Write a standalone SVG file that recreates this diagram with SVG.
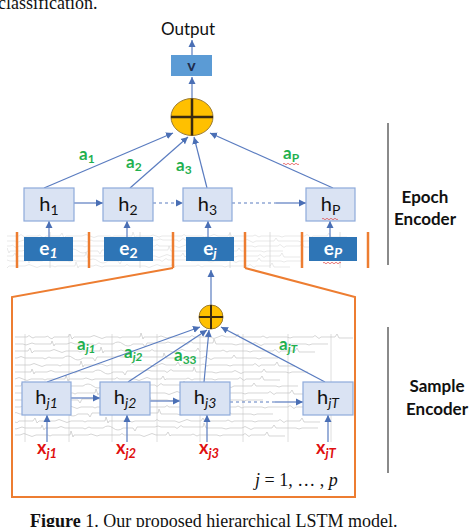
<svg xmlns="http://www.w3.org/2000/svg" width="474" height="527" viewBox="0 0 474 527">
<defs>
<style>
.sans{font-family:Lato,"Open Sans","Liberation Sans",sans-serif}
.serif{font-family:"Liberation Serif","Times New Roman",serif}
.hb{fill:#dae3f3;stroke:#8eaadb;stroke-width:1.2}
.eb{fill:#2e75b6}
.ht{font-size:20px;fill:#111;text-anchor:middle}
.sub{font-size:14px}
.et{font-size:19px;fill:#fff;font-weight:bold;text-anchor:middle}
.al{font-size:17px;fill:#1fb04f;font-weight:bold}
.xl{font-size:18px;fill:#e01010;font-weight:bold}
.c{stroke:#5a7cc0;stroke-width:1.2;fill:none;marker-end:url(#ah)}
.cn{stroke:#5a7cc0;stroke-width:1.2;fill:none}
.d{stroke-dasharray:3,3}
.eeg{fill:none;stroke:#c4c4c4;stroke-width:0.7}
.eegl{fill:none;stroke:#dadada;stroke-width:0.6}
.grid{stroke:#d6d6d6;stroke-width:0.8}
.or{stroke:#ed7d31;fill:none}
.sq{fill:none;stroke:#e04040;stroke-width:0.7}
</style>
<marker id="ah" markerUnits="userSpaceOnUse" markerWidth="8" markerHeight="8" refX="7" refY="4" orient="auto">
<path d="M0,0.5 L7,4 L0,7.5 z" fill="#4a6fb5"/>
</marker>
<path id="w1" d="M0,0 h12 q2,-3 4,0 q2,2 4,0 h10 q3,-2 5,1 q2,2 4,-1 h14 l2,-3 l2,5 l2,-2 h16 q4,-3 8,0 t8,0 h12 q2,2 4,0 h18 l1,-4 l2,6 l1,-2 h14 q3,-2 6,0 q3,2 6,0 h20 q2,-3 4,0 h16 q4,3 8,0 t8,0 h10 l2,-3 l2,4 l1,-1 h20 q2,-2 4,0 t4,0 h18 q3,2 6,0 h20 q2,-3 4,0 t4,0 h14 l2,-3 l2,4 h16"/>
<path id="w2" d="M0,0 h8 q3,2 6,0 t6,0 h16 l1,-3 l2,5 l1,-2 h12 q4,-3 8,0 h18 q2,2 4,0 q2,-2 4,0 h12 q5,-4 10,0 t10,0 h10 l2,3 l2,-4 h18 q3,-2 6,0 h14 q2,3 4,0 t4,0 h20 l1,-4 l2,5 h16 q4,2 8,0 h12 q3,-3 6,0 q3,3 6,0 h18 l2,-3 l2,3 h20 q3,2 6,0 h16"/>
<clipPath id="cl1"><rect x="15" y="333" width="338" height="110"/></clipPath>
<clipPath id="cl2"><rect x="7" y="231" width="362" height="38"/></clipPath>
</defs>
<rect width="474" height="527" fill="#fff"/>

<!-- page text fragments -->
<text class="serif" x="-2" y="9" font-size="18" fill="#111">classification.</text>
<text class="serif" x="30" y="527" font-size="18" fill="#111"><tspan font-weight="bold">Figure</tspan> 1. Our proposed hierarchical LSTM model.</text>

<!-- EEG background, epoch strip -->
<g id="eeg-strip" clip-path="url(#cl2)">
<use href="#w1" x="7" y="236" class="eegl"/>
<use href="#w2" x="7" y="241" class="eegl"/>
<use href="#w1" x="-20" y="246" class="eegl"/>
<use href="#w2" x="-30" y="251" class="eegl"/>
<use href="#w1" x="-40" y="256" class="eegl"/>
<use href="#w2" x="-10" y="261" class="eegl"/>
<use href="#w1" x="-50" y="266" class="eegl"/>
<line x1="50" y1="232" x2="50" y2="268" class="grid"/>
<line x1="140" y1="232" x2="140" y2="268" class="grid"/>
<line x1="230" y1="232" x2="230" y2="268" class="grid"/>
<line x1="270" y1="232" x2="270" y2="268" class="grid"/>
<line x1="340" y1="232" x2="340" y2="268" class="grid"/>
</g>

<!-- EEG background, sample box -->
<g id="eeg-sample" clip-path="url(#cl1)">
<line x1="25" y1="334" x2="25" y2="442" class="grid"/>
<line x1="69" y1="334" x2="69" y2="442" class="grid"/>
<line x1="112" y1="334" x2="112" y2="442" class="grid"/>
<line x1="157" y1="334" x2="157" y2="442" class="grid"/>
<line x1="200" y1="334" x2="200" y2="442" class="grid"/>
<line x1="243" y1="334" x2="243" y2="442" class="grid"/>
<line x1="288" y1="334" x2="288" y2="442" class="grid"/>
<line x1="331" y1="334" x2="331" y2="442" class="grid"/>
<use href="#w1" x="15" y="337" class="eeg"/>
<use href="#w2" x="15" y="344" class="eeg"/>
<use href="#w1" x="-25" y="351" class="eeg"/>
<use href="#w2" x="-35" y="358" class="eeg"/>
<use href="#w1" x="-45" y="365" class="eeg"/>
<use href="#w2" x="-5" y="372" class="eeg"/>
<use href="#w1" x="-60" y="379" class="eeg"/>
<use href="#w2" x="-15" y="386" class="eeg"/>
<use href="#w1" x="-30" y="393" class="eeg"/>
<use href="#w2" x="-50" y="400" class="eeg"/>
<use href="#w1" x="-10" y="407" class="eeg"/>
<use href="#w2" x="-40" y="414" class="eeg"/>
<use href="#w1" x="-20" y="421" class="eeg"/>
<use href="#w2" x="5" y="428" class="eeg"/>
<use href="#w1" x="-55" y="435" class="eeg"/>
</g>

<!-- orange framing -->
<g id="frame">
<line x1="17" y1="232" x2="17" y2="268" class="or" stroke-width="2.5"/>
<line x1="89" y1="232" x2="89" y2="268" class="or" stroke-width="2.5"/>
<line x1="173" y1="232" x2="173" y2="268" class="or" stroke-width="2.5"/>
<line x1="245" y1="232" x2="245" y2="268" class="or" stroke-width="2.5"/>
<line x1="302" y1="232" x2="302" y2="268" class="or" stroke-width="2.5"/>
<line x1="368" y1="232" x2="368" y2="268" class="or" stroke-width="2.5"/>
<path d="M173,268 L12,297 L12,497 L355,497 L355,297 L245,268" class="or" stroke-width="2"/>
<line x1="388" y1="123" x2="388" y2="265" stroke="#8a8a8a" stroke-width="2"/>
<line x1="388" y1="327" x2="388" y2="473" stroke="#8a8a8a" stroke-width="2"/>
</g>

<!-- connectors -->
<g id="connectors">
<line x1="192" y1="55" x2="192" y2="40" class="c"/>
<line x1="192" y1="99" x2="192" y2="77" class="c"/>
<line x1="44" y1="188" x2="173" y2="133" class="c"/>
<line x1="130" y1="188" x2="188" y2="137" class="c"/>
<line x1="207" y1="188" x2="194" y2="137" class="c"/>
<line x1="333" y1="188" x2="210" y2="133" class="c"/>
<line x1="74" y1="203" x2="103" y2="203" class="c"/>
<line x1="153" y1="203" x2="183" y2="203" class="c d"/>
<line x1="232" y1="203" x2="276" y2="203" class="cn d"/>
<line x1="276" y1="203" x2="306" y2="203" class="c"/>
<line x1="49" y1="237" x2="49" y2="221" class="c"/>
<line x1="127" y1="237" x2="127" y2="221" class="c"/>
<line x1="208" y1="237" x2="208" y2="221" class="c"/>
<line x1="330" y1="237" x2="330" y2="221" class="c"/>
<line x1="211" y1="305" x2="211" y2="270" class="c"/>
<line x1="47" y1="382" x2="200" y2="327" class="c"/>
<line x1="128" y1="382" x2="207" y2="330" class="c"/>
<line x1="204" y1="382" x2="209" y2="330" class="c"/>
<line x1="325" y1="382" x2="221" y2="327" class="c"/>
<line x1="71" y1="398" x2="100" y2="398" class="c"/>
<line x1="150" y1="401" x2="180" y2="401" class="c"/>
<line x1="230" y1="402" x2="275" y2="402" class="cn d"/>
<line x1="275" y1="402" x2="303" y2="402" class="c"/>
<line x1="47" y1="442" x2="47" y2="415" class="c"/>
<line x1="127" y1="442" x2="127" y2="415" class="c"/>
<line x1="207" y1="442" x2="207" y2="415" class="c"/>
<line x1="328" y1="442" x2="328" y2="415" class="c"/>
</g>

<!-- output -->
<g id="output"><text class="sans" x="188" y="35" font-size="17" text-anchor="middle" fill="#111">Output</text></g>
<g id="v"><rect x="171" y="55" width="41" height="21" fill="#5b9bd5"/><text class="sans" x="191.5" y="71" font-size="16" font-weight="bold" text-anchor="middle" fill="#1f2d4d">v</text></g>

<!-- sum nodes -->
<g id="sum-epoch">
<ellipse cx="192" cy="117" rx="21" ry="18.5" fill="#ffc000" stroke="#9a7a30" stroke-width="1"/>
<line x1="171" y1="117" x2="213" y2="117" stroke="#3a2a10" stroke-width="2.5"/>
<line x1="192" y1="98.5" x2="192" y2="135.5" stroke="#3a2a10" stroke-width="2.5"/>
</g>
<g id="sum-sample">
<circle cx="211" cy="317" r="12" fill="#ffc000" stroke="#9a7a30" stroke-width="1"/>
<line x1="199" y1="317" x2="223" y2="317" stroke="#3a2a10" stroke-width="2"/>
<line x1="211" y1="305" x2="211" y2="329" stroke="#3a2a10" stroke-width="2"/>
</g>

<!-- epoch encoder h nodes -->
<g id="h1"><rect x="24" y="188" width="50" height="33" class="hb"/><text class="sans ht" x="49" y="211">h<tspan class="sub" dy="4">1</tspan></text></g>
<g id="h2"><rect x="103" y="188" width="50" height="33" class="hb"/><text class="sans ht" x="128" y="211">h<tspan class="sub" dy="4">2</tspan></text></g>
<g id="h3"><rect x="183" y="188" width="49" height="33" class="hb"/><text class="sans ht" x="207.5" y="211">h<tspan class="sub" dy="4">3</tspan></text></g>
<g id="hP"><rect x="306" y="188" width="49" height="33" class="hb"/><text class="sans ht" x="330.5" y="211">h<tspan class="sub" dy="4">P</tspan></text><path class="sq" d="M322,219 q1,-1.5 2,0 t2,0 t2,0 t2,0 t2,0 t2,0 t2,0 t2,0"/></g>

<!-- e nodes -->
<g id="e1"><rect x="24" y="237" width="49" height="24" class="eb"/><text class="sans et" x="48.5" y="255">e<tspan class="sub" dy="3" font-style="italic">1</tspan></text></g>
<g id="e2"><rect x="104" y="237" width="49" height="24" class="eb"/><text class="sans et" x="128.5" y="255">e<tspan class="sub" dy="3">2</tspan></text></g>
<g id="ej"><rect x="186" y="237" width="48" height="24" class="eb"/><text class="sans et" x="210" y="255">e<tspan class="sub" dy="3" font-style="italic">j</tspan></text></g>
<g id="eP"><rect x="309" y="237" width="48" height="24" class="eb"/><text class="sans et" x="333" y="255">e<tspan class="sub" dy="3" font-style="italic">P</tspan></text><path class="sq" d="M323,263 q1,-1.5 2,0 t2,0 t2,0 t2,0 t2,0 t2,0 t2,0 t2,0 t2,0"/></g>

<!-- sample encoder h nodes -->
<g id="hj1"><rect x="22" y="382" width="49" height="33" class="hb"/><text class="sans ht" x="46.5" y="404">h<tspan class="sub" dy="4" font-style="italic">j1</tspan></text></g>
<g id="hj2"><rect x="100" y="382" width="50" height="33" class="hb"/><text class="sans ht" x="125" y="404">h<tspan class="sub" dy="4" font-style="italic">j2</tspan></text></g>
<g id="hj3"><rect x="180" y="382" width="50" height="33" class="hb"/><text class="sans ht" x="205" y="404">h<tspan class="sub" dy="4" font-style="italic">j3</tspan></text></g>
<g id="hjT"><rect x="303" y="382" width="50" height="33" class="hb"/><text class="sans ht" x="328" y="404">h<tspan class="sub" dy="4" font-style="italic">jT</tspan></text></g>

<!-- attention labels -->
<g id="labels-a">
<text class="sans al" x="79" y="160">a<tspan font-size="12" dy="3">1</tspan></text>
<text class="sans al" x="126" y="168">a<tspan font-size="12" dy="3">2</tspan></text>
<text class="sans al" x="176" y="171">a<tspan font-size="12" dy="3">3</tspan></text>
<text class="sans al" x="283" y="159">a<tspan font-size="12" dy="3">P</tspan></text>
<path class="sq" d="M283,164 q1,-1.5 2,0 t2,0 t2,0 t2,0 t2,0 t2,0 t2,0 t2,0"/>
<text class="sans al" x="77" y="350">a<tspan font-size="12" dy="3" font-style="italic">j1</tspan></text>
<text class="sans al" x="124" y="358">a<tspan font-size="12" dy="3" font-style="italic">j2</tspan></text>
<text class="sans al" x="174" y="361">a<tspan font-size="12" dy="3">33</tspan></text>
<text class="sans al" x="279" y="350">a<tspan font-size="12" dy="3" font-style="italic">jT</tspan></text>
</g>

<!-- inputs -->
<g id="inputs">
<text class="sans xl" x="37" y="454">x<tspan font-size="13" dy="4" font-style="italic">j1</tspan></text>
<text class="sans xl" x="116" y="454">x<tspan font-size="13" dy="4" font-style="italic">j2</tspan></text>
<text class="sans xl" x="199" y="454">x<tspan font-size="13" dy="4" font-style="italic">j3</tspan></text>
<text class="sans xl" x="316" y="454">x<tspan font-size="13" dy="4" font-style="italic">jT</tspan></text>
</g>

<g id="range"><text class="serif" x="255" y="486" font-size="18" fill="#111"><tspan font-style="italic">j</tspan> = 1, … , <tspan font-style="italic">p</tspan></text></g>

<g id="side-labels">
<text class="sans" x="425" y="203" font-size="17" font-weight="bold" text-anchor="middle" fill="#111">Epoch</text>
<text class="sans" x="425" y="225" font-size="17" font-weight="bold" text-anchor="middle" fill="#111">Encoder</text>
<text class="sans" x="437" y="392" font-size="17" font-weight="bold" text-anchor="middle" fill="#111">Sample</text>
<text class="sans" x="437" y="415" font-size="17" font-weight="bold" text-anchor="middle" fill="#111">Encoder</text>
</g>
</svg>
